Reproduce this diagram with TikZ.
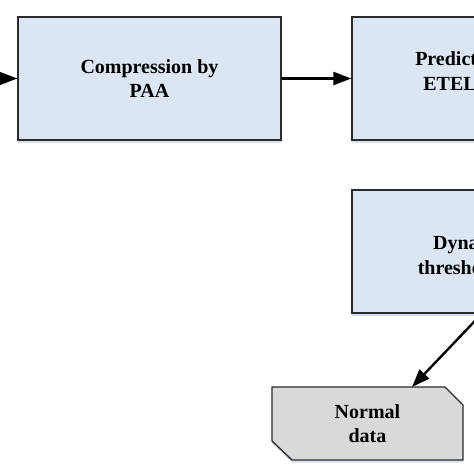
\documentclass[tikz,border=0pt]{standalone}
\usepackage{fontspec}
\setmainfont{Liberation Serif}
\usetikzlibrary{arrows.meta,shadows,calc}
\definecolor{boxblue}{HTML}{DCE6F2}
\definecolor{boxgray}{HTML}{D9D9D9}
\definecolor{edgec}{HTML}{2B2B2B}
\definecolor{shadowc}{HTML}{AFC3DC}
\begin{document}
\begin{tikzpicture}[x=1pt,y=-1pt,
  boxshadow/.style={drop shadow={shadow xshift=0pt,shadow yshift=-2.5pt,fill=shadowc,opacity=0.5}},
  procbox/.style={draw=edgec, line width=1.3pt, fill=boxblue, minimum height=123pt, inner sep=0pt, boxshadow},
  lbl/.style={font=\bfseries\fontsize{20}{24.5}\selectfont, align=center, inner sep=0pt, text=black},
  arr/.style={line width=2.4pt, draw=black, -{Triangle[length=18pt,width=13pt]}},
]
\useasboundingbox (0,0) rectangle (474,474);
\clip (0,0) rectangle (474,474);
\fill[white] (0,0) rectangle (474,474);

% boxes
\node[procbox, minimum width=263pt, lbl] (box1) at (149.5,78.5) {Compression by\\PAA};
\node[procbox, minimum width=215pt] (box2) at (459.5,78.5) {};
\node[lbl] (t2) at ([yshift=7.5pt]box2.center) {Prediction\\ETELM};
\node[procbox, minimum width=239pt] (box3) at (471.5,251.5) {};
\node[lbl] (t3) at ([yshift=-6pt]box3.center) {Dynamic\\thresholding};

% normal data shape
\path[draw=edgec, line width=1.3pt, fill=boxgray, boxshadow]
  (272,387) -- (445,387) -- (463,405) -- (463,460) -- (292,460) -- (272,441) -- cycle;
\node[lbl] (nd) at (367.5,423.5) {Normal\\data};
\coordinate (ndtop) at (412,387);

% connectors
\coordinate (inleft) at (-20,78.5);
\draw[arr] (inleft) -- (box1.west);
\draw[arr] (box1.east) -- (box2.west);
\draw[arr] ($(box3.south west)+(130.5,0)$) -- (ndtop);
\end{tikzpicture}
\end{document}
